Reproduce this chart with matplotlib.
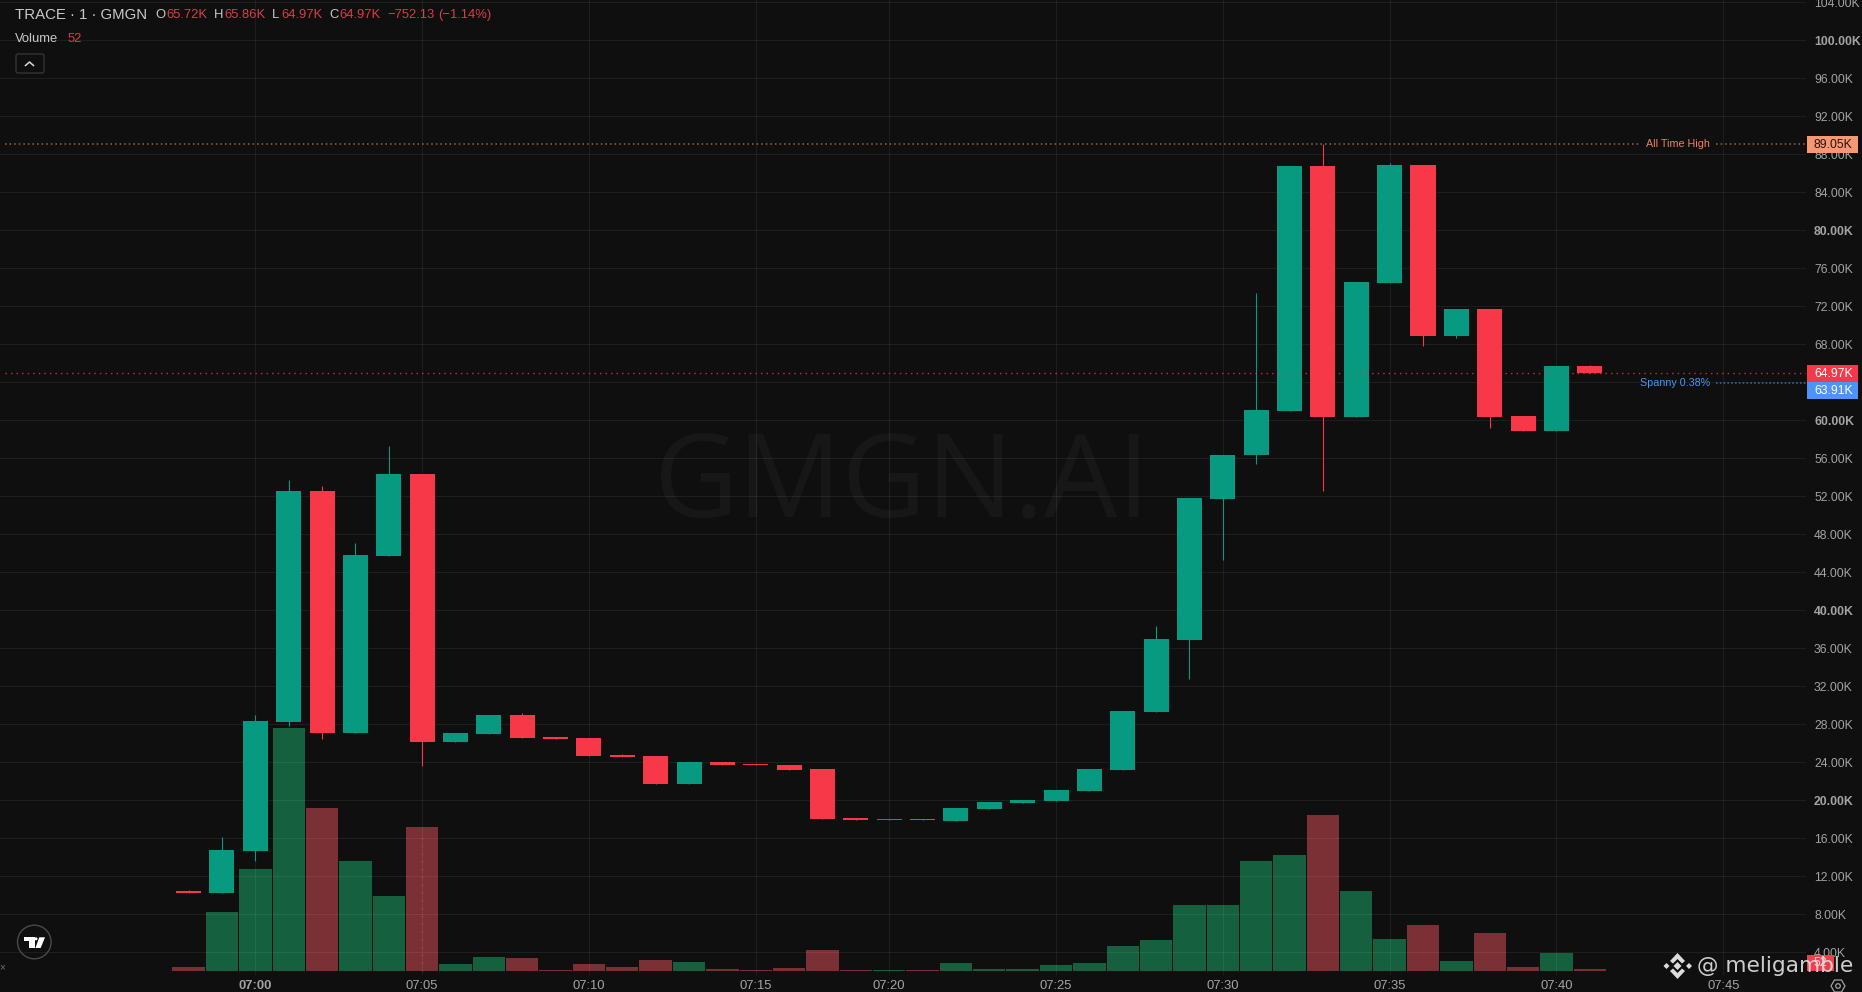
import matplotlib
matplotlib.use("Agg")
import matplotlib.pyplot as plt
from matplotlib.patches import Rectangle, FancyBboxPatch, Circle, Polygon
from matplotlib.transforms import blended_transform_factory

plt.rcParams['font.family'] = ['Liberation Sans', 'DejaVu Sans']

# Bar positions count traded minutes from 07:00 (one minute has no bar, before 07:20)
bar_index = list(range(-2, 41))

opens = [10.40, 10.25, 14.66, 28.24, 52.56, 27.10, 45.70, 54.35, 26.13, 26.98, 28.98,
         26.67, 26.56, 24.77, 24.66, 21.71, 24.03, 23.82, 23.72, 23.30, 18.14, 17.93,
         18.03, 17.83, 19.08, 19.71, 19.92, 20.98, 23.20, 29.30, 36.87, 51.73, 56.35,
         60.98, 86.77, 60.35, 74.46, 86.88, 68.87, 71.72, 60.45, 58.87, 65.72]
highs = [10.60, 16.13, 29.00, 53.70, 53.10, 47.10, 57.30, 54.35, 27.08, 28.98, 29.19,
         26.67, 26.56, 24.88, 24.66, 24.03, 24.03, 23.82, 23.72, 23.30, 18.14, 18.03,
         18.03, 19.20, 19.82, 20.03, 21.08, 23.30, 29.40, 38.35, 51.73, 56.35, 73.40,
         86.77, 89.05, 74.56, 87.08, 86.88, 71.72, 71.72, 60.45, 65.72, 65.86]
lows = [10.25, 10.25, 13.60, 27.80, 26.46, 27.10, 45.70, 23.60, 26.13, 26.98, 26.56,
        26.46, 24.66, 24.56, 21.71, 21.71, 23.72, 23.72, 23.19, 18.03, 17.93, 17.93,
        17.93, 17.83, 19.08, 19.71, 19.92, 20.98, 23.20, 29.30, 32.80, 45.30, 55.40,
        60.98, 52.57, 60.35, 74.46, 67.80, 68.66, 59.20, 58.87, 58.87, 64.97]
closes = [10.25, 14.77, 28.35, 52.56, 27.10, 45.80, 54.35, 26.13, 27.08, 28.98, 26.56,
          26.46, 24.66, 24.56, 21.71, 24.03, 23.72, 23.72, 23.19, 18.03, 17.93, 18.03,
          17.93, 19.20, 19.82, 20.03, 21.08, 23.30, 29.40, 36.98, 51.83, 56.35, 61.09,
          86.77, 60.35, 74.56, 86.88, 68.87, 71.72, 60.35, 58.87, 65.72, 64.97]
volumes = [104, 1534, 2652, 6318, 4238, 2860, 1950, 3744, 182, 364, 338, 26, 182, 104,
           286, 234, 52, 26, 78, 546, 26, 26, 26, 208, 52, 52, 156, 208, 650, 806, 1716,
           1716, 2860, 3016, 4056, 2080, 832, 1196, 260, 988, 104, 468, 52]

time_positions = [0, 5, 10, 15, 19, 24, 29, 34, 39, 44]
time_labels = ['07:00', '07:05', '07:10', '07:15', '07:20', '07:25', '07:30', '07:35', '07:40', '07:45']
price_ticks = list(range(4, 108, 4))

ath_price = 89.05
last_price = 64.97
spanny_price = 63.91

BG = '#0f0f0f'
UP = '#089981'
DOWN = '#f63849'
HEADER_RED = '#d63d4a'
VOL_UP = '#15613f'
VOL_DOWN = '#7a3034'
TEXT = '#a3a3a3'
ATH = '#f59873'
BLUE = '#4c94f8'

W, H = 1862, 992


def px(size):
    """Font size in points for a pixel size at dpi 100."""
    return size * 0.72


fig = plt.figure(figsize=(W / 100, H / 100), dpi=100, facecolor=BG)
rect = [0, (H - 975) / H, 1806 / W, 975 / H]

# Volume sits underneath, it has its own scale
ax_vol = fig.add_axes(rect, facecolor=BG, zorder=1)
ax_vol.set_xlim(-7.653, 46.48)
ax_vol.set_ylim(-104, 25246)
ax_vol.axis('off')

bar_colors = [VOL_UP if c >= o else VOL_DOWN for o, c in zip(opens, closes)]
ax_vol.bar(bar_index, volumes, width=0.97, color=bar_colors, linewidth=0)

ax = fig.add_axes(rect, zorder=2)
ax.patch.set_visible(False)
ax.set_xlim(-7.653, 46.48)
ax.set_ylim(1.61, 104.24)
for spine in ax.spines.values():
    spine.set_visible(False)

ax.set_axisbelow(True)
ax.grid(True, color='white', alpha=0.065, linewidth=0.8)
ax.yaxis.tick_right()
ax.set_yticks(price_ticks)
ax.set_yticklabels([f'{p}.00K' for p in price_ticks])
ax.set_xticks(time_positions)
ax.set_xticklabels(time_labels)
ax.tick_params(axis='y', length=0, pad=5.8, labelsize=px(12.3), labelcolor=TEXT)
ax.tick_params(axis='x', length=0, pad=3.5, labelsize=px(13), labelcolor=TEXT)
for label, p in zip(ax.get_yticklabels(), price_ticks):
    if p % 20 == 0:
        label.set_fontweight('bold')
ax.get_xticklabels()[0].set_fontweight('bold')

# Watermark behind the candles
ax.text(0.4995, 0.501, 'GMGN.AI', transform=ax.transAxes, ha='center', va='center',
        fontsize=px(116), color='#171717', family='Open Sans', zorder=0.5)

# Candles
candle_colors = [UP if c >= o else DOWN for o, c in zip(opens, closes)]
ax.vlines(bar_index, lows, highs, colors=candle_colors, linewidth=0.8, zorder=3)
ax.bar(bar_index, [abs(c - o) for o, c in zip(opens, closes)],
       bottom=[min(o, c) for o, c in zip(opens, closes)],
       width=0.75, color=candle_colors, linewidth=0, zorder=3)

# Price lines
ax.hlines(ath_price, -7.5, 41.5, color=ATH, alpha=0.62, linewidth=1.1, linestyle=(0, (1, 2)), zorder=4)
ax.hlines(ath_price, 43.79, 46.48, color=ATH, alpha=0.62, linewidth=1.1, linestyle=(0, (1, 2)), zorder=4)
ax.hlines(last_price, -7.5, 46.48, color=DOWN, alpha=0.8, linewidth=1.0, linestyle=(0, (1, 3)), zorder=4)
ax.hlines(spanny_price, 43.79, 46.48, color=BLUE, alpha=0.7, linewidth=1.1, linestyle=(0, (1, 1.5)), zorder=4)
# Faint dotted trace inside the 07:05 volume bar
ax.vlines(5, 2.03, 16.66, color=ATH, alpha=0.35, linewidth=0.8, linestyle=(0, (1, 6)), zorder=2)

# Everything drawn in screen pixels goes on an overlay
ov = fig.add_axes([0, 0, 1, 1], zorder=3)
ov.patch.set_visible(False)
ov.set_xlim(0, W)
ov.set_ylim(H, 0)
ov.axis('off')
price_y = blended_transform_factory(ov.transData, ax.transData)

# Header
ov.text(15, 15, 'TRACE · 1 · GMGN', fontsize=px(15), color='#c8c8c8', va='center')
header = [(155, 'O', '#c8c8c8'), (166, '65.72K', HEADER_RED), (214, 'H', '#c8c8c8'), (224, '65.86K', HEADER_RED),
          (272, 'L', '#c8c8c8'), (281, '64.97K', HEADER_RED), (329, 'C', '#c8c8c8'), (339, '64.97K', HEADER_RED),
          (387, '−752.13', HEADER_RED), (438, '(−1.14%)', HEADER_RED)]
for x, s, c in header:
    ov.text(x, 15, s, fontsize=px(13), color=c, va='center')
ov.text(15, 39, 'Volume', fontsize=px(13), color='#c8c8c8', va='center')
ov.text(68, 39, '52', fontsize=px(13), color=HEADER_RED, va='center')

ov.add_patch(FancyBboxPatch((16, 54), 28, 19, boxstyle='round,pad=0,rounding_size=2',
                            fc=BG, ec='#3c3c3c', lw=0.8))
ov.plot([25.5, 29.5, 33.5], [65.5, 62, 65.5], color='#d8d8d8', lw=1.1)

# Labels on the lines
ov.text(1646, ath_price, 'All Time High', transform=price_y, fontsize=px(10.8), color='#f0805f', va='center')
ov.text(1640, spanny_price, 'Spanny 0.38%', transform=price_y, fontsize=px(10.8), color=BLUE, va='center')

# Price tags
for y0, y1, x1, fc, tc, s in [(136, 153, 1858, ATH, '#2c120a', '89.05K'),
                              (365, 382, 1858, DOWN, 'white', '64.97K'),
                              (382, 399, 1858, BLUE, 'white', '63.91K'),
                              (955, 971, 1834, '#ee3f4c', '#ffd8d8', '52')]:
    ov.add_patch(Rectangle((1807, y0), x1 - 1807, y1 - y0, fc=fc, ec='none'))
    ov.text(1814, (y0 + y1) / 2 + 0.5, s, fontsize=px(12.3), color=tc, va='center')

# TradingView badge
ov.add_patch(Circle((34.3, 942), 16.8, fc='none', ec='#4a4a4a', lw=1.0))
ov.add_patch(Polygon([(24, 937.3), (34.5, 937.3), (34.5, 948), (29.2, 948), (29.2, 941), (24, 941)], fc='white', ec='none'))
ov.add_patch(Circle((36, 938.8), 1.5, fc='white', ec='none'))
ov.add_patch(Polygon([(39.3, 937.3), (45, 937.3), (40.7, 948), (35.4, 948)], fc='white', ec='none'))
ov.text(-1, 967, '×', fontsize=px(10), color='#707070', va='center')

# Settings icon
ov.add_patch(Polygon([(1831, 986), (1834.5, 980), (1841.5, 980), (1845, 986), (1841.5, 992), (1834.5, 992)],
                     fc='none', ec='#a0a0a0', lw=0.9))
ov.add_patch(Circle((1838, 986), 2.3, fc='none', ec='#a0a0a0', lw=0.9))

# Bottom right stamp
STAMP = '#dcdcdc'
ov.text(1697, 965.5, '@ meligamble', family='DejaVu Sans', fontsize=px(21.6), color=STAMP,
        alpha=0.93, va='center', zorder=6)
for cx, cy, r in [(1666.5, 966, 3), (1689, 966, 3), (1677.5, 966, 4)]:
    ov.add_patch(Polygon([(cx - r, cy), (cx, cy - r), (cx + r, cy), (cx, cy + r)], fc=STAMP, ec='none', zorder=6))
ov.add_patch(Polygon([(1670, 961), (1677.5, 953), (1685, 961), (1682, 963.5), (1677.5, 959), (1673, 963.5)],
                     fc=STAMP, ec='none', zorder=6))
ov.add_patch(Polygon([(1670, 971), (1677.5, 979), (1685, 971), (1682, 968.5), (1677.5, 973), (1673, 968.5)],
                     fc=STAMP, ec='none', zorder=6))

fig.savefig('out.png', dpi=100, facecolor=BG)
